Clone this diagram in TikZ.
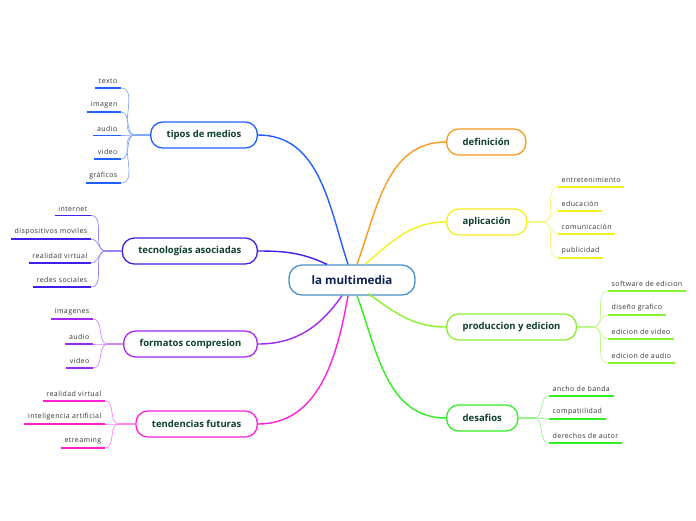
\documentclass[tikz,border=0pt]{standalone}
\usepackage{fontspec}
\setmainfont{Open Sans}
\newfontfamily\leaffont[LetterSpace=6]{Open Sans}
\definecolor{cblue}{HTML}{2060FF}
\definecolor{cindigo}{HTML}{4020E8}
\definecolor{cpurple}{HTML}{A028F0}
\definecolor{cmagenta}{HTML}{FF20D8}
\definecolor{corange}{HTML}{F89A20}
\definecolor{cyellow}{HTML}{F2F020}
\definecolor{clime}{HTML}{88F030}
\definecolor{cgreen}{HTML}{30EE20}
\definecolor{rootline}{HTML}{4A90C8}
\definecolor{roottext}{HTML}{0B2050}
\definecolor{topictext}{HTML}{0F3F30}
\definecolor{leaftext}{HTML}{333333}
\tikzset{
  root/.style={draw=rootline, line width=1.3pt, rounded corners=13pt, fill=white,
    minimum width=126pt, minimum height=30pt, text=roottext,
    font=\bfseries\fontsize{11.6}{13}\selectfont},
  topic/.style={draw=#1, line width=1.3pt, rounded corners=12pt, fill=white,
    minimum height=26pt, inner xsep=16pt, text=topictext,
    font=\bfseries\fontsize{9.5}{11}\selectfont},
  leaf/.style={inner xsep=3.5pt, inner ysep=4pt, text=leaftext,
    font=\leaffont\fontsize{7}{8}\selectfont},
  under/.style={draw=#1, line width=1.8pt},
  twig/.style={draw=#1!55, line width=0.7pt},
  stem/.style={draw=#1!55, line width=1.6pt},
  branch/.style={draw=#1, line width=1.4pt},
}
\begin{document}
\begin{tikzpicture}[x=1pt,y=-1pt]
\useasboundingbox (0,0) rectangle (696,520);

% centro
\node[root] (mm) at (352,280) {la multimedia};

% ramas izquierda
\node[topic=cblue, anchor=east] (medios) at (258,135) {tipos de medios};
\node[topic=cindigo, anchor=east] (tecno) at (258,251) {tecnologías asociadas};
\node[topic=cpurple, anchor=east] (formatos) at (258,344) {formatos compresion};
\node[topic=cmagenta, anchor=east] (tendencias) at (258,424) {tendencias futuras};

% ramas derecha
\node[topic=corange, anchor=west] (definicion) at (446,142) {definición};
\node[topic=cyellow, anchor=west] (aplicacion) at (446,222) {aplicación};
\node[topic=clime, anchor=west] (produccion) at (446,327) {produccion y edicion};
\node[topic=cgreen, anchor=west] (desafios) at (446,418) {desafios};

% conexiones con el centro
\draw[branch=cblue] (medios.east) to[out=0,in=108] ([xshift=-4pt]mm.north);
\draw[branch=cindigo] (tecno.east) to[out=0,in=155] ([xshift=-25pt]mm.north);
\draw[branch=cpurple] (formatos.east) to[out=0,in=-125] ([xshift=-10pt]mm.south);
\draw[branch=cmagenta] (tendencias.east) to[out=0,in=-100] ([xshift=-4pt]mm.south);
\draw[branch=corange] (definicion.west) to[out=180,in=70] ([xshift=5pt]mm.north);
\draw[branch=cyellow] (aplicacion.west) to[out=180,in=40] ([xshift=13pt]mm.north);
\draw[branch=clime] (produccion.west) to[out=180,in=-35] ([xshift=16pt,yshift=2pt]mm.south);
\draw[branch=cgreen] (desafios.west) to[out=180,in=-70] ([xshift=5pt]mm.south);

% tipos de medios
\coordinate (jmedios) at (135,135);
\node[leaf, anchor=south east] (m1) at (121,88) {texto};
\node[leaf, anchor=south east] (m2) at (121,112) {imagen};
\node[leaf, anchor=south east] (m3) at (121,135.5) {audio};
\node[leaf, anchor=south east] (m4) at (121,159) {video};
\node[leaf, anchor=south east] (m5) at (121,183) {gráficos};
\draw[stem=cblue] (jmedios) -- (medios.west);
\foreach \l in {m1,m2,m3,m4,m5}{
  \draw[twig=cblue] (\l.south east) to[out=0,in=180] (jmedios);
  \draw[under=cblue] (\l.south west) -- (\l.south east);
}

% tecnologias asociadas
\coordinate (jtecno) at (106,251);
\node[leaf, anchor=south east] (t1) at (91,215.5) {internet};
\node[leaf, anchor=south east] (t2) at (91,239) {dispositivos moviles};
\node[leaf, anchor=south east] (t3) at (91,263) {realidad virtual};
\node[leaf, anchor=south east] (t4) at (91,287) {redes sociales};
\draw[stem=cindigo] (jtecno) -- (tecno.west);
\foreach \l in {t1,t2,t3,t4}{
  \draw[twig=cindigo] (\l.south east) to[out=0,in=180] (jtecno);
  \draw[under=cindigo] (\l.south west) -- (\l.south east);
}

% formatos compresion
\coordinate (jformatos) at (108,344);
\node[leaf, anchor=south east] (f1) at (93,319) {imagenes};
\node[leaf, anchor=south east] (f2) at (93,344) {audio};
\node[leaf, anchor=south east] (f3) at (93,368) {video};
\draw[stem=cpurple] (jformatos) -- (formatos.west);
\foreach \l in {f1,f2,f3}{
  \draw[twig=cpurple] (\l.south east) to[out=0,in=180] (jformatos);
  \draw[under=cpurple] (\l.south west) -- (\l.south east);
}

% tendencias futuras
\coordinate (jtend) at (119,424);
\node[leaf, anchor=south east] (d1) at (105,401) {realidad virtual};
\node[leaf, anchor=south east] (d2) at (105,424) {inteligencia artificial};
\node[leaf, anchor=south east] (d3) at (105,448) {etreaming};
\draw[stem=cmagenta] (jtend) -- (tendencias.west);
\foreach \l in {d1,d2,d3}{
  \draw[twig=cmagenta] (\l.south east) to[out=0,in=180] (jtend);
  \draw[under=cmagenta] (\l.south west) -- (\l.south east);
}

% aplicacion
\coordinate (japlic) at (543,222);
\node[leaf, anchor=south west] (a1) at (558,187) {entretenimiento};
\node[leaf, anchor=south west] (a2) at (558,211) {educación};
\node[leaf, anchor=south west] (a3) at (558,234) {comunicación};
\node[leaf, anchor=south west] (a4) at (558,258) {publicidad};
\draw[stem=cyellow] (aplicacion.east) -- (japlic);
\foreach \l in {a1,a2,a3,a4}{
  \draw[twig=cyellow] (japlic) to[out=0,in=180] (\l.south west);
  \draw[under=cyellow] (\l.south west) -- (\l.south east);
}

% produccion y edicion
\coordinate (jprod) at (593,327);
\node[leaf, anchor=south west] (p1) at (608,291) {software de edicion};
\node[leaf, anchor=south west] (p2) at (608,315) {diseño grafico};
\node[leaf, anchor=south west] (p3) at (608,339) {edicion de video};
\node[leaf, anchor=south west] (p4) at (608,363) {edicion de audio};
\draw[stem=clime] (produccion.east) -- (jprod);
\foreach \l in {p1,p2,p3,p4}{
  \draw[twig=clime] (jprod) to[out=0,in=180] (\l.south west);
  \draw[under=clime] (\l.south west) -- (\l.south east);
}

% desafios
\coordinate (jdesaf) at (534,418);
\node[leaf, anchor=south west] (s1) at (549,396) {ancho de banda};
\node[leaf, anchor=south west] (s2) at (549,419) {compatiilidad};
\node[leaf, anchor=south west] (s3) at (549,443) {derechos de autor};
\draw[stem=cgreen] (desafios.east) -- (jdesaf);
\foreach \l in {s1,s2,s3}{
  \draw[twig=cgreen] (jdesaf) to[out=0,in=180] (\l.south west);
  \draw[under=cgreen] (\l.south west) -- (\l.south east);
}
\end{tikzpicture}
\end{document}
